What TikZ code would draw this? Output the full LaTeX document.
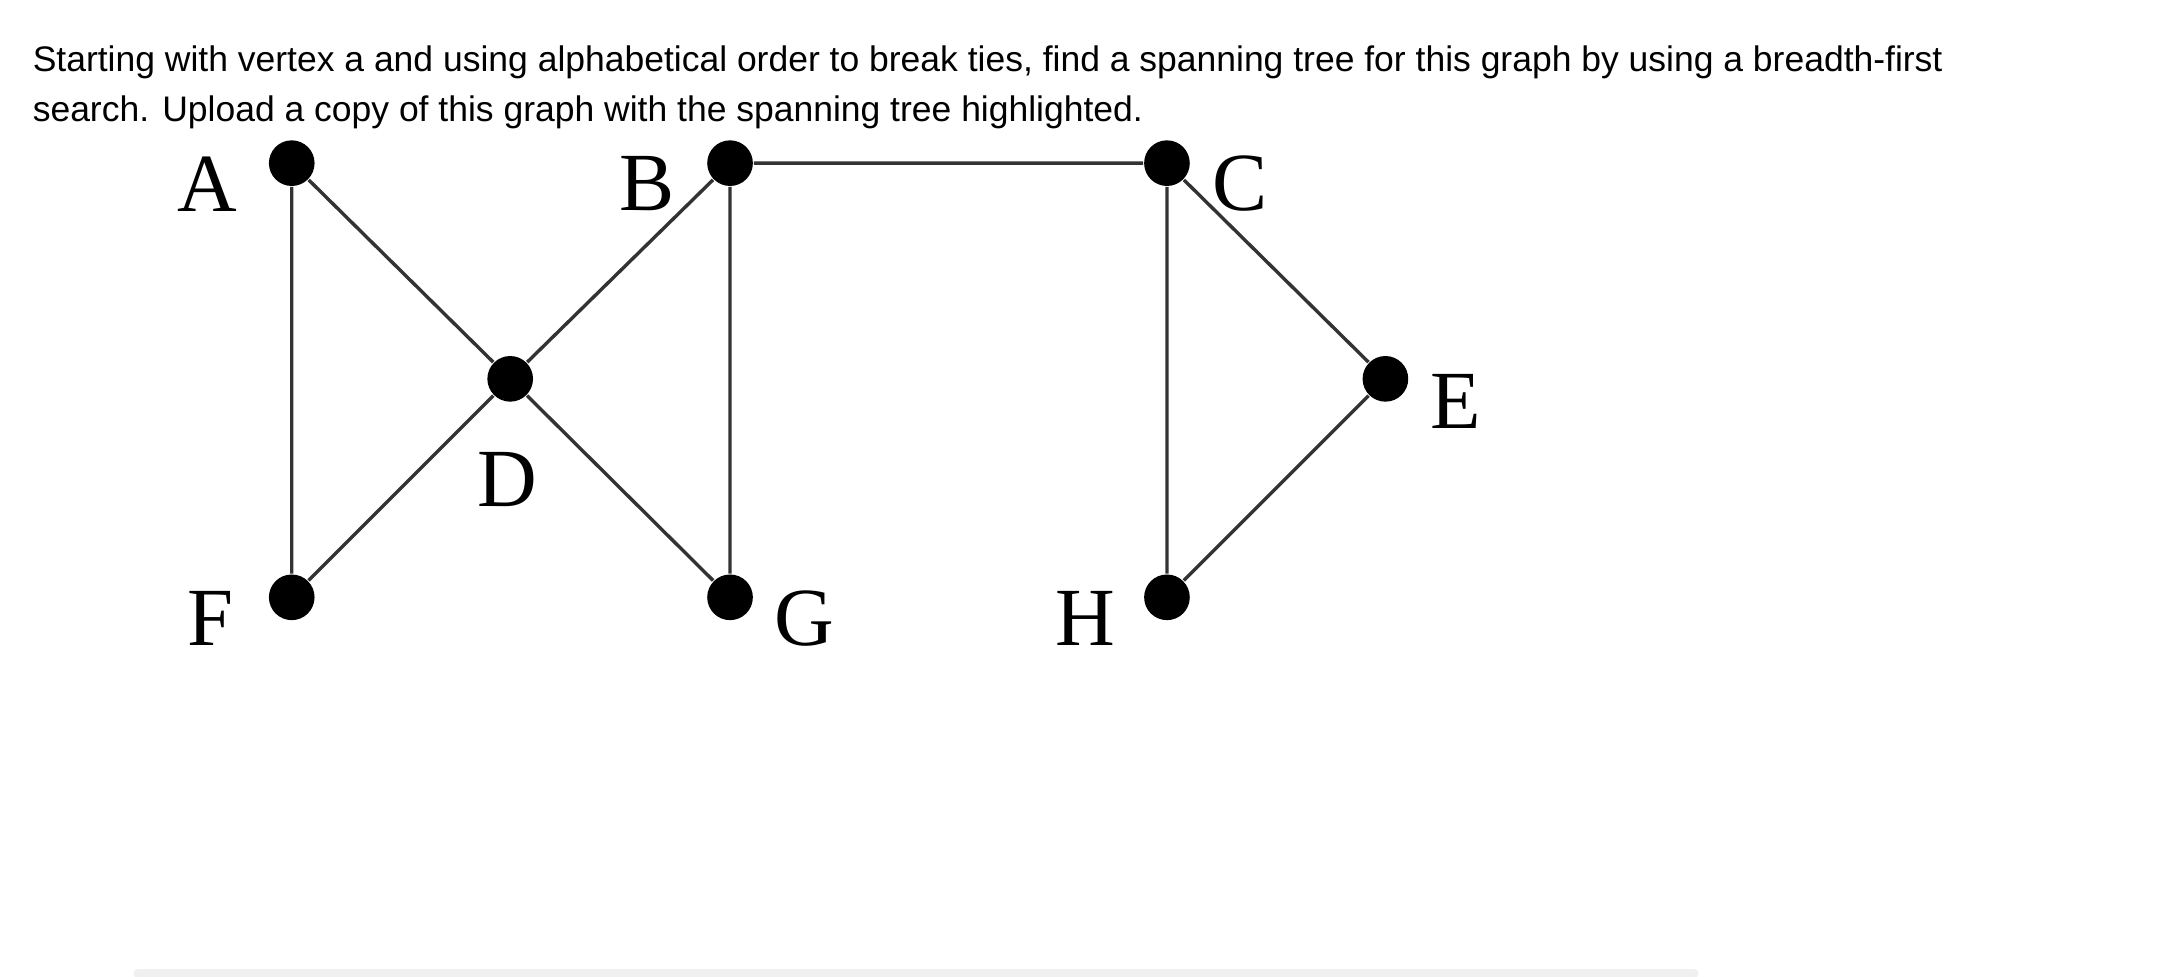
\documentclass[tikz,border=0pt]{standalone}
\usepackage{fontspec}
\setmainfont{Liberation Sans}
\newfontfamily\lblfont{Liberation Serif}
\begin{document}
\begin{tikzpicture}[x=0.01cm,y=-0.01cm,
  vtx/.style={circle,fill=black,inner sep=0pt,minimum size=0.33cm},
  lbl/.style={font=\lblfont\fontsize{17}{20}\selectfont,inner sep=0pt},
  edge/.style={draw=black!80,line width=0.7pt}]
\useasboundingbox (0,0) rectangle (1568,706);
\node[anchor=base west,inner sep=0pt,font=\fontsize{7.3}{9}\selectfont] (t1) at (23,52) {Starting with vertex a and using alphabetical order to break ties, find a spanning tree for this graph by using a breadth-first};
\node[anchor=base west,inner sep=0pt,font=\fontsize{7.3}{9}\selectfont] (t2) at (23,88) {search. Upload a copy of this graph with the spanning tree highlighted.};
\node[vtx] (A) at (211,118) {};
\node[vtx] (B) at (528,118) {};
\node[vtx] (C) at (844,118) {};
\node[vtx] (D) at (369,274) {};
\node[vtx] (E) at (1002,274) {};
\node[vtx] (F) at (211,432) {};
\node[vtx] (G) at (528,432) {};
\node[vtx] (H) at (844,432) {};
\node[lbl] (lA) at (150,133) {A};
\node[lbl] (lB) at (468,133) {B};
\node[lbl] (lC) at (897,133) {C};
\node[lbl] (lD) at (367,347) {D};
\node[lbl] (lE) at (1053,290) {E};
\node[lbl] (lF) at (152,447) {F};
\node[lbl] (lG) at (582,447) {G};
\node[lbl] (lH) at (785,447) {H};
\path[edge] (A)--(F) (A)--(D) (D)--(F) (D)--(B) (D)--(G) (B)--(G) (B)--(C) (C)--(H) (C)--(E) (E)--(H);
\coordinate (g1) at (100,704); \coordinate (g2) at (1225,704);
\draw[black!6,line width=2pt,line cap=round] (g1)--(g2);
\end{tikzpicture}
\end{document}
